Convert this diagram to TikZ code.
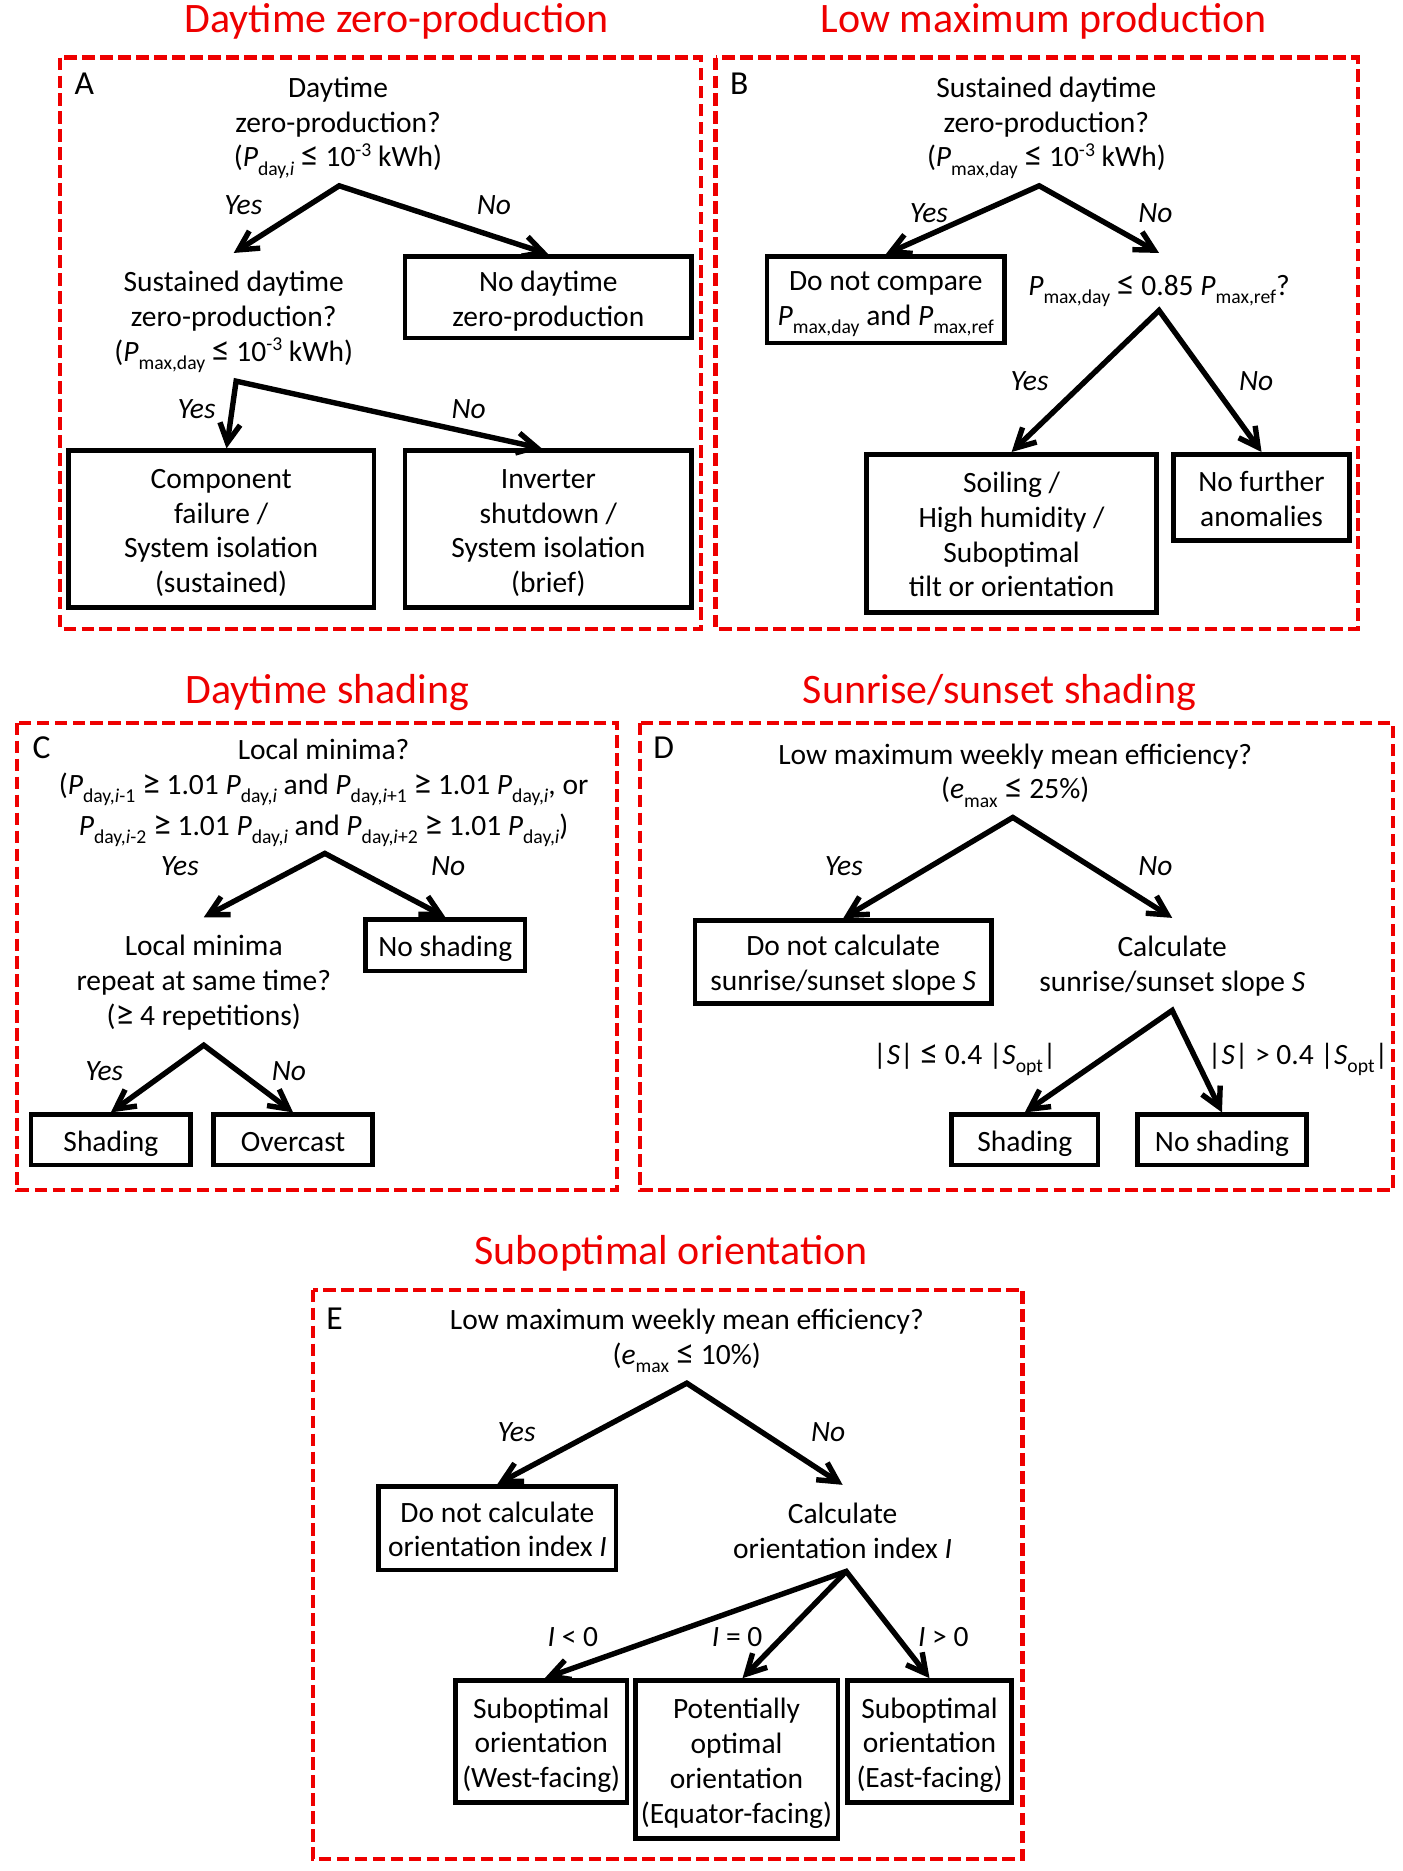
\documentclass[tikz,border=0pt]{standalone}
\usepackage{fontspec}
\setmainfont{Carlito}
\usetikzlibrary{arrows.meta}
\definecolor{rd}{RGB}{238,0,0}
\newcommand\sr{\rule[-5pt]{0pt}{29pt}}
\newcommand\mysub[1]{\raisebox{-0.28em}{\fontsize{16.4}{16}\selectfont #1}}
\newcommand\mysup[1]{\raisebox{0.36em}{\fontsize{16.4}{16}\selectfont #1}}
\newcommand\Pv[1]{\textit{P}\mysub{#1}}
\newcommand\myi{\textit{i}}
\newcommand\myle{{\fontsize{30}{29}\selectfont ≤}}
\newcommand\myge{{\fontsize{30}{29}\selectfont ≥}}
\begin{document}
\begin{tikzpicture}[x=1pt,y=-1pt,
  >={Straight Barb[length=16pt,width=17pt]},
  panel/.style={draw=rd,line width=3.5pt,dash pattern=on 10.5pt off 4.5pt},
  ttl/.style={text=rd,font=\fontsize{35}{40}\selectfont,anchor=base,inner sep=0pt},
  ltr/.style={font=\fontsize{28}{29}\selectfont,anchor=base west,inner sep=0pt},
  qn/.style={font=\fontsize{24.6}{29}\selectfont,align=center,inner xsep=2pt,inner ysep=8pt},
  bx/.style={draw,line width=3.8pt,font=\fontsize{24.6}{29}\selectfont,align=center,inner sep=0pt},
  yn/.style={font=\fontsize{24.6}{29}\selectfont\itshape,inner sep=0pt},
  lb/.style={font=\fontsize{24.6}{29}\selectfont,inner sep=0pt},
  arr/.style={line width=4.5pt,line join=miter}]
\useasboundingbox (0,0) rectangle (1170,1561);

% ---------------- Panel A
\draw[panel] (50,48) rectangle (585,525);
\node[ttl] (tA) at (331,27.5) {Daytime zero-production};
\node[ltr] (lA) at (62,79) {A};
\node[qn] (qA1) at (282,103) {\sr Daytime\\\sr zero-production?\\\sr (\Pv{day,\myi} \myle{} 10\mysup{-3} kWh)};
\coordinate (aA1) at (283,155);
\node[qn] (qA2) at (195,265) {\sr Sustained daytime\\\sr zero-production?\\\sr (\Pv{max,day} \myle{} 10\mysup{-3} kWh)};
\node[bx,minimum width=239pt,minimum height=68pt] (bA1) at (457.5,248) {\sr No daytime\\\sr zero-production};
\coordinate (aA2) at (197,318);
\node[bx,minimum width=255pt,minimum height=131pt] (bA2) at (184.5,441.5) {\sr Component\\\sr failure /\\\sr System isolation\\\sr (sustained)};
\node[bx,minimum width=239pt,minimum height=131pt] (bA3) at (457.5,441.5) {\sr Inverter\\\sr shutdown /\\\sr System isolation\\\sr (brief)};
\draw[arr,<->] (qA2.north) -- (aA1) -- (bA1.north);
\draw[arr,<->] ([xshift=4.5pt]bA2.north) -- (aA2) -- ([xshift=-5.5pt]bA3.north);
\node[yn] (yA1) at (203,171) {Yes};
\node[yn] (nA1) at (412,171) {No};
\node[yn] (yA2) at (164,341) {Yes};
\node[yn] (nA2) at (391,341) {No};

% ---------------- Panel B
\draw[panel] (597,48) rectangle (1133,525);
\node[ttl] (tB) at (871,27.5) {Low maximum production};
\node[ltr] (lB) at (609,79) {B};
\node[qn] (qB1) at (873,103) {\sr Sustained daytime\\\sr zero-production?\\\sr (\Pv{max,day} \myle{} 10\mysup{-3} kWh)};
\coordinate (aB1) at (867,155);
\node[bx,minimum width=198pt,minimum height=72pt] (bB1) at (739,250) {\sr Do not compare\\\sr \Pv{max,day} and \Pv{max,ref}};
\node[qn,inner ysep=11pt] (qB2) at (967,239) {\sr \Pv{max,day} \myle{} 0.85 \Pv{max,ref}?};
\coordinate (aB2) at (967,259);
\node[bx,minimum width=242pt,minimum height=132pt] (bB2) at (844,445) {\sr Soiling /\\\sr High humidity /\\\sr Suboptimal\\\sr tilt or orientation};
\node[bx,minimum width=147pt,minimum height=72pt] (bB3) at (1052.5,415) {\sr No further\\\sr anomalies};
\draw[arr,<->] (bB1.north) -- (aB1) -- (qB2.north);
\draw[arr,<->] (bB2.north) -- (aB2) -- (bB3.north);
\node[yn] (yB1) at (775,178) {Yes};
\node[yn] (nB1) at (964,178) {No};
\node[yn] (yB2) at (859,318) {Yes};
\node[yn] (nB2) at (1048,318) {No};

% ---------------- Panel C
\draw[panel] (14,603) rectangle (515,993);
\node[ttl] (tC) at (273,587) {Daytime shading};
\node[ltr] (lC) at (27,633) {C};
\node[qn] (qC1) at (270,658) {\sr Local minima?\\\sr (\Pv{day,\myi-1} \myge{} 1.01 \Pv{day,\myi} and \Pv{day,\myi+1} \myge{} 1.01 \Pv{day,\myi}, or\\\sr \Pv{day,\myi-2} \myge{} 1.01 \Pv{day,\myi} and \Pv{day,\myi+2} \myge{} 1.01 \Pv{day,\myi})};
\coordinate (aC1) at (271,712);
\node[bx,minimum width=133pt,minimum height=43pt] (bC1) at (371.5,788.5) {\sr No shading};
\node[qn] (qC2) at (170,817) {\sr Local minima\\\sr repeat at same time?\\\sr (\myge{} 4 repetitions)};
\coordinate (aC2) at (170,872);
\node[bx,minimum width=133pt,minimum height=42pt] (bC2) at (92.5,951) {\sr Shading};
\node[bx,minimum width=133pt,minimum height=42pt] (bC3) at (244.5,951) {\sr Overcast};
\draw[arr,<->] (qC2.north) -- (aC1) -- (bC1.north);
\draw[arr,<->] (bC2.north) -- (aC2) -- (bC3.north);
\node[yn] (yC1) at (150,723) {Yes};
\node[yn] (nC1) at (374,723) {No};
\node[yn] (yC2) at (87,894) {Yes};
\node[yn] (nC2) at (241,894) {No};

% ---------------- Panel D
\draw[panel] (534,603) rectangle (1162,993);
\node[ttl] (tD) at (834,587) {Sunrise/sunset shading};
\node[ltr] (lD) at (545,633) {D};
\node[qn] (qD1) at (847,643.5) {\sr Low maximum weekly mean efficiency?\\\sr (\textit{e}\mysub{max}\hspace{6pt}\myle{} 25\%)};
\coordinate (aD1) at (845,682);
\node[bx,minimum width=247pt,minimum height=69pt] (bD1) at (703.5,802.5) {\sr Do not calculate\\\sr sunrise/sunset slope \textit{S}};
\node[qn] (qD2) at (978,803) {\sr Calculate\\\sr sunrise/sunset slope \textit{S}};
\coordinate (aD2) at (978,843);
\node[bx,minimum width=122pt,minimum height=42pt] (bD2) at (855,951) {\sr Shading};
\node[bx,minimum width=141pt,minimum height=42pt] (bD3) at (1019.5,951) {\sr No shading};
\draw[arr,<->] (bD1.north) -- (aD1) -- (qD2.north);
\draw[arr,<->] (bD2.north) -- (aD2) -- (bD3.north);
\node[yn] (yD1) at (704,723) {Yes};
\node[yn] (nD1) at (964,723) {No};
\node[lb] (sD1) at (805,884) {|\textit{S}| \myle{} 0.4 |\textit{S}\mysub{opt}|};
\node[lb] (sD2) at (1083,884) {|\textit{S}| > 0.4 |\textit{S}\mysub{opt}|};

% ---------------- Panel E
\draw[panel] (261,1076) rectangle (853,1551);
\node[ttl] (tE) at (560,1055) {Suboptimal orientation};
\node[ltr] (lE) at (272,1109) {E};
\node[qn] (qE1) at (573,1115.5) {\sr Low maximum weekly mean efficiency?\\\sr (\textit{e}\mysub{max}\hspace{6pt}\myle{} 10\%)};
\coordinate (aE1) at (573,1154);
\node[bx,minimum width=198pt,minimum height=70pt] (bE1) at (415,1275) {\sr Do not calculate\\\sr orientation index \textit{I}};
\node[qn] (qE2) at (703,1276) {\sr Calculate\\\sr orientation index \textit{I}};
\coordinate (aE2) at (706,1311);
\node[bx,minimum width=143pt,minimum height=102pt] (bE2) at (451.5,1453) {\sr Suboptimal\\\sr orientation\\\sr (West-facing)};
\node[bx,minimum width=169pt,minimum height=132pt] (bE3) at (614.5,1468) {\sr Potentially\\\sr optimal\\\sr orientation\\\sr (Equator-facing)};
\node[bx,minimum width=137pt,minimum height=102pt] (bE4) at (775.5,1453) {\sr Suboptimal\\\sr orientation\\\sr (East-facing)};
\draw[arr,<->] (bE1.north) -- (aE1) -- (qE2.north);
\draw[arr,<->] ([xshift=3pt]bE2.north) -- (aE2) -- (bE4.north);
\draw[arr,->] (aE2) -- ([xshift=5pt]bE3.north);
\node[yn] (yE1) at (431,1195) {Yes};
\node[yn] (nE1) at (691,1195) {No};
\node[lb] (iE1) at (478,1366) {\textit{I} < 0};
\node[lb] (iE2) at (615,1366) {\textit{I} = 0};
\node[lb] (iE3) at (787,1366) {\textit{I} > 0};
\end{tikzpicture}
\end{document}
